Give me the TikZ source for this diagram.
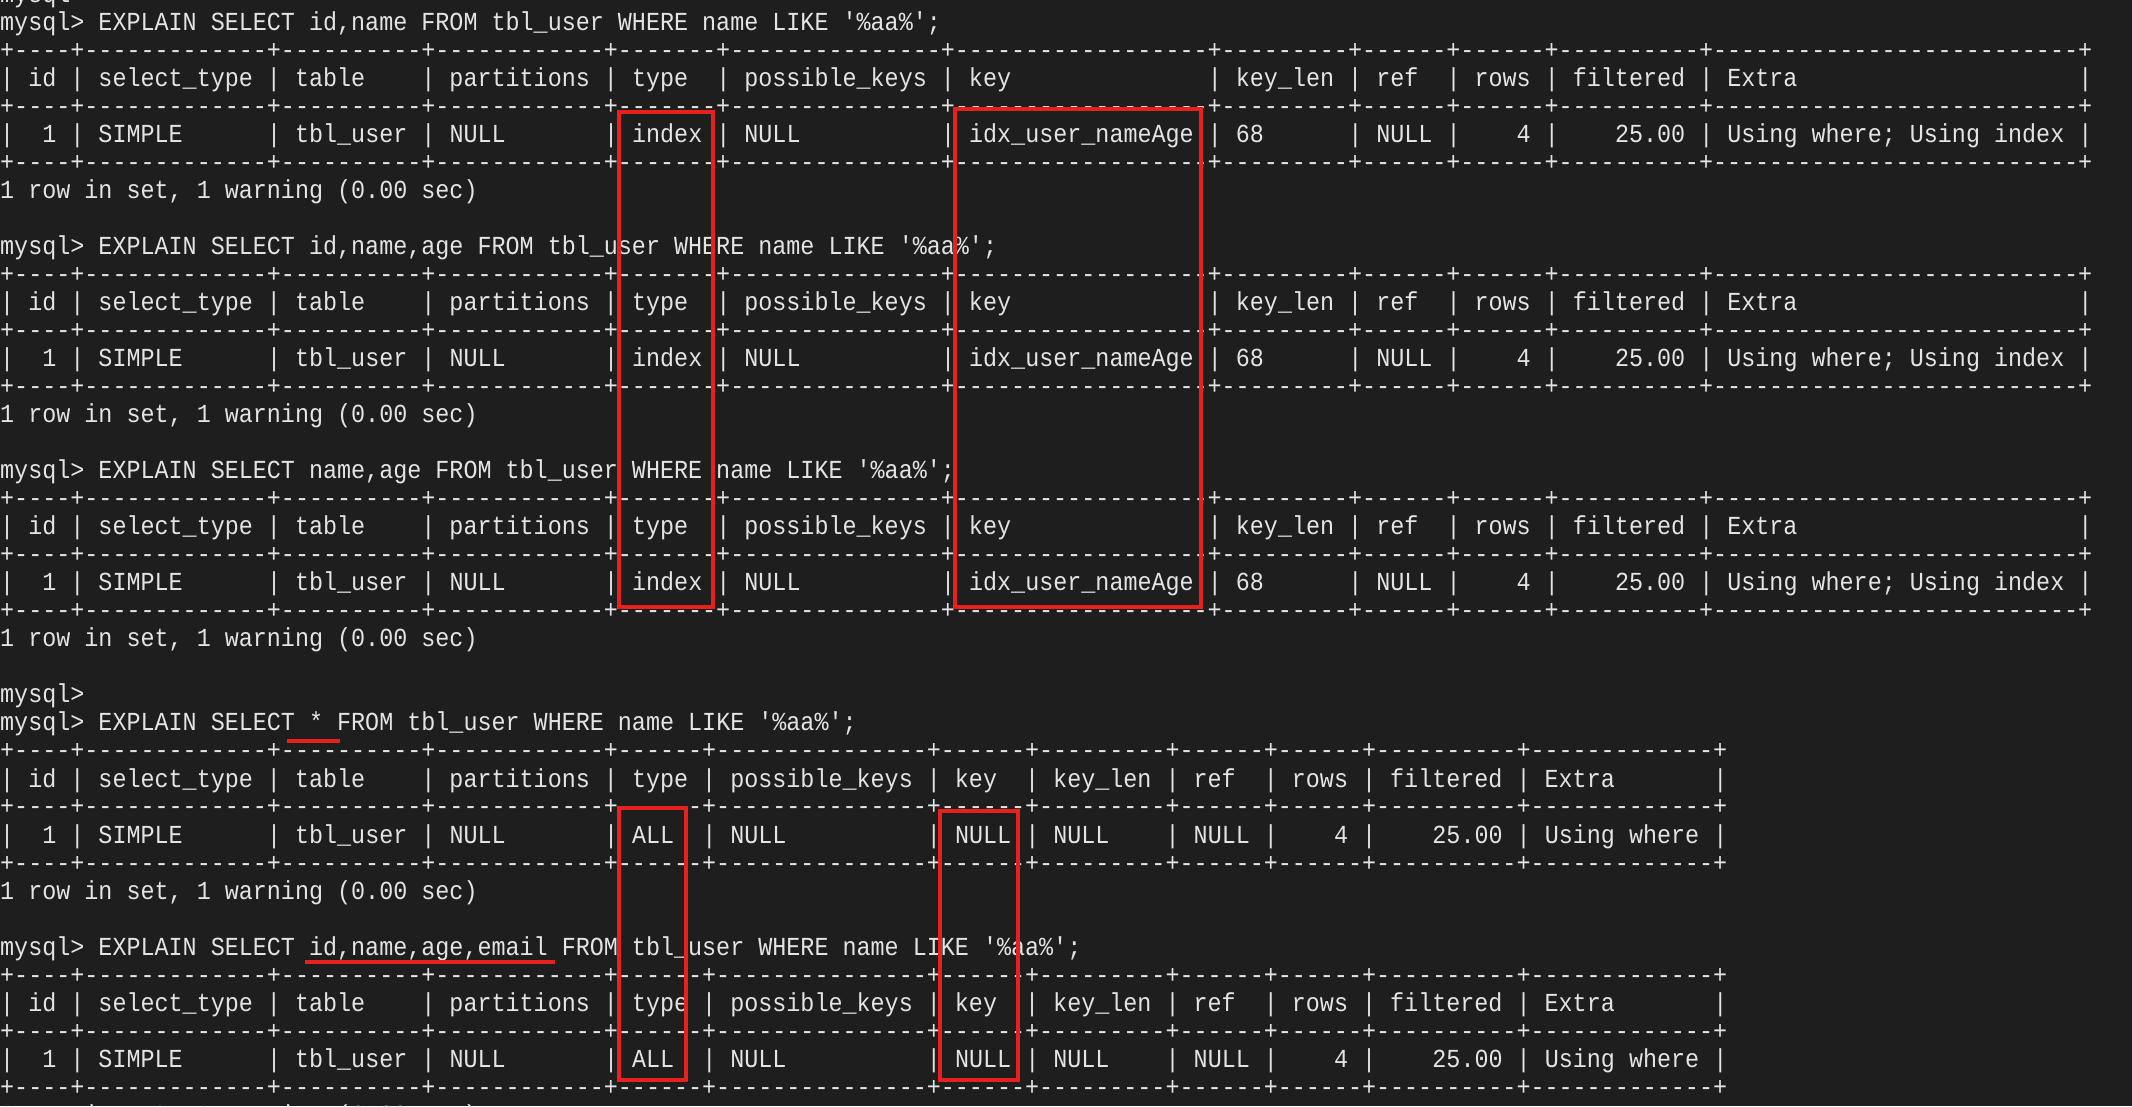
\documentclass[tikz,border=0pt]{standalone}
\usepackage{fontspec}
\newfontfamily\termfont[FakeStretch=0.9]{Liberation Mono}
\definecolor{termbg}{HTML}{1E1E1E}
\definecolor{termfg}{HTML}{E4E4E4}
\definecolor{mark}{HTML}{E8211E}

\tikzstyle{term}=[anchor=base west, inner sep=0, text=termfg,
                  font=\termfont\fontsize{26}{28}\selectfont]
\tikzstyle{box}=[draw=mark, line width=4pt]

% table lines
\newcommand{\borderA}{+----+-------------+----------+------------+-------+---------------+------------------+---------+------+------+----------+--------------------------+}
\newcommand{\headA}{|~id~|~select\_type~|~table~~~~|~partitions~|~type~~|~possible\_keys~|~key~~~~~~~~~~~~~~|~key\_len~|~ref~~|~rows~|~filtered~|~Extra~~~~~~~~~~~~~~~~~~~~|}
\newcommand{\rowA}{|~~1~|~SIMPLE~~~~~~|~tbl\_user~|~NULL~~~~~~~|~index~|~NULL~~~~~~~~~~|~idx\_user\_nameAge~|~68~~~~~~|~NULL~|~~~~4~|~~~~25.00~|~Using~where;~Using~index~|}
\newcommand{\borderB}{+----+-------------+----------+------------+------+---------------+------+---------+------+------+----------+-------------+}
\newcommand{\headB}{|~id~|~select\_type~|~table~~~~|~partitions~|~type~|~possible\_keys~|~key~~|~key\_len~|~ref~~|~rows~|~filtered~|~Extra~~~~~~~|}
\newcommand{\rowB}{|~~1~|~SIMPLE~~~~~~|~tbl\_user~|~NULL~~~~~~~|~ALL~~|~NULL~~~~~~~~~~|~NULL~|~NULL~~~~|~NULL~|~~~~4~|~~~~25.00~|~Using~where~|}
\newcommand{\done}{1 row in set, 1 warning (0.00 sec)}

\begin{document}
\begin{tikzpicture}[x=1pt, y=1pt]

  %%%%%%%%%%%%%%%%%%%%%%%%%%%%%%
  % terminal
  \fill[termbg] (0, 0) rectangle (2132, 1106);
  \useasboundingbox (0, 0) rectangle (2132, 1106);

  %%%%%%%%%%%%%%%%%%%%%%%%%%%%%%
  % query 1
  \node (l0) at (0, 1103) [term] {mysql>};
  \node (l1) at (0, 1075) [term] {mysql> EXPLAIN SELECT id,name FROM tbl\_user WHERE name LIKE '\%aa\%';};
  \node (l2) at (0, 1047) [term] {\borderA};
  \node (l3) at (0, 1019) [term] {\headA};
  \node (l4) at (0, 991) [term] {\borderA};
  \node (l5) at (0, 963) [term] {\rowA};
  \node (l6) at (0, 935) [term] {\borderA};
  \node (l7) at (0, 907) [term] {\done};

  % query 2
  \node (l9) at (0, 851) [term] {mysql> EXPLAIN SELECT id,name,age FROM tbl\_user WHERE name LIKE '\%aa\%';};
  \node (l10) at (0, 823) [term] {\borderA};
  \node (l11) at (0, 795) [term] {\headA};
  \node (l12) at (0, 767) [term] {\borderA};
  \node (l13) at (0, 739) [term] {\rowA};
  \node (l14) at (0, 711) [term] {\borderA};
  \node (l15) at (0, 683) [term] {\done};

  % query 3
  \node (l17) at (0, 627) [term] {mysql> EXPLAIN SELECT name,age FROM tbl\_user WHERE name LIKE '\%aa\%';};
  \node (l18) at (0, 599) [term] {\borderA};
  \node (l19) at (0, 571) [term] {\headA};
  \node (l20) at (0, 543) [term] {\borderA};
  \node (l21) at (0, 515) [term] {\rowA};
  \node (l22) at (0, 487) [term] {\borderA};
  \node (l23) at (0, 459) [term] {\done};

  % query 4
  \node (l25) at (0, 403) [term] {mysql>};
  \node (l26) at (0, 375) [term] {mysql> EXPLAIN SELECT * FROM tbl\_user WHERE name LIKE '\%aa\%';};
  \node (l27) at (0, 347) [term] {\borderB};
  \node (l28) at (0, 319) [term] {\headB};
  \node (l29) at (0, 291) [term] {\borderB};
  \node (l30) at (0, 263) [term] {\rowB};
  \node (l31) at (0, 235) [term] {\borderB};
  \node (l32) at (0, 207) [term] {\done};

  % query 5
  \node (l34) at (0, 151) [term] {mysql> EXPLAIN SELECT id,name,age,email FROM tbl\_user WHERE name LIKE '\%aa\%';};
  \node (l35) at (0, 123) [term] {\borderB};
  \node (l36) at (0, 95) [term] {\headB};
  \node (l37) at (0, 67) [term] {\borderB};
  \node (l38) at (0, 39) [term] {\rowB};
  \node (l39) at (0, 11) [term] {\borderB};
  \node (l40) at (0, -17) [term] {\done};

  %%%%%%%%%%%%%%%%%%%%%%%%%%%%%%
  % marks
  \draw[box] (619, 994) rectangle (713, 499);
  \draw[box] (955, 997) rectangle (1201, 499);
  \draw[box] (619, 298) rectangle (686, 26);
  \draw[box] (940, 295) rectangle (1018, 26);

  \draw[box] (287, 365) to (340, 365);
  \draw[box] (305, 144) to (555, 144);

\end{tikzpicture}
\end{document}
